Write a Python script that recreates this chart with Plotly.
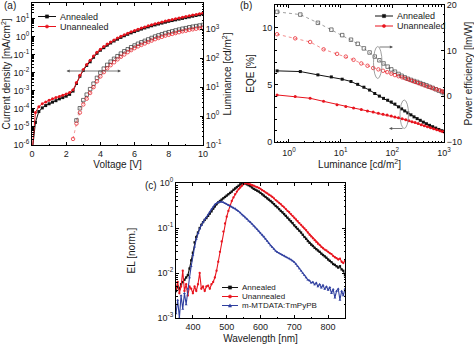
import plotly.graph_objects as go

W, H = 474, 347
FONT = "Liberation Sans, Arial, sans-serif"
TXT = "#1a1a1a"
RED = "#e8141e"
BLUE = "#2f3f9f"
BLACK = "#111111"

# ---------------- Panel (a) data ----------------
voltage = [0.0, 0.2, 0.4, 0.6, 0.8, 1.0, 1.2, 1.4, 1.6, 1.8, 2.0, 2.2, 2.4, 2.6, 2.8, 3.0, 3.2, 3.4,
           3.6, 3.8, 4.0, 4.2, 4.4, 4.6, 4.8, 5.0, 5.2, 5.4, 5.6, 5.8, 6.0, 6.2, 6.4, 6.6, 6.8, 7.0,
           7.2, 7.4, 7.6, 7.8, 8.0, 8.2, 8.4, 8.6, 8.8, 9.0, 9.2, 9.4, 9.6, 9.8, 10.0]
# log10 of current density [mA/cm2]
logJ_annealed = [-6.5, -4.75, -4.15, -3.95, -3.82, -3.72, -3.63, -3.55, -3.45, -3.38, -3.3, -3.2, -3.02,
                 -2.6, -2.2, -1.88, -1.6, -1.4, -1.15, -0.93, -0.76, -0.62, -0.48, -0.36, -0.25, -0.15,
                 -0.05, 0.04, 0.12, 0.2, 0.27, 0.34, 0.41, 0.47, 0.53, 0.59, 0.64, 0.69, 0.74, 0.79,
                 0.84, 0.88, 0.92, 0.96, 1.0, 1.04, 1.08, 1.12, 1.16, 1.2, 1.24]
logJ_unannealed = [-6.5, -4.2, -3.88, -3.72, -3.62, -3.52, -3.45, -3.38, -3.32, -3.25, -3.18, -3.1, -2.95,
                   -2.55, -2.15, -1.82, -1.55, -1.32, -1.08, -0.87, -0.7, -0.56, -0.42, -0.3, -0.19, -0.09,
                   0.01, 0.1, 0.18, 0.26, 0.33, 0.4, 0.47, 0.53, 0.59, 0.65, 0.7, 0.75, 0.8, 0.85,
                   0.9, 0.94, 0.98, 1.02, 1.06, 1.1, 1.14, 1.18, 1.22, 1.26, 1.3]
voltage_lum_annealed = voltage[13:]
logL_annealed = [-0.15, 0.27, 0.55, 0.74, 0.93, 1.12, 1.32, 1.5, 1.64, 1.77, 1.88, 1.98, 2.07, 2.16,
                 2.24, 2.31, 2.38, 2.44, 2.5, 2.55, 2.6, 2.65, 2.7, 2.75, 2.79, 2.83, 2.87, 2.9, 2.93,
                 2.96, 2.99, 3.02, 3.04, 3.07, 3.09, 3.11, 3.13, 3.15]
voltage_lum_unannealed = voltage[12:]
logL_unannealed = [-0.79, -0.26, 0.12, 0.4, 0.6, 0.8, 1.0, 1.2, 1.37, 1.52, 1.65, 1.76, 1.86, 1.96,
                   2.05, 2.13, 2.21, 2.28, 2.35, 2.41, 2.46, 2.51, 2.56, 2.61, 2.66, 2.7, 2.74, 2.78,
                   2.81, 2.84, 2.87, 2.9, 2.93, 2.95, 2.98, 3.0, 3.02, 3.04, 3.06]

# ---------------- Panel (b) data ----------------
logLum_annealed = [-0.23, 0.22, 0.56, 0.82, 1.03, 1.2, 1.33, 1.45, 1.56, 1.66, 1.75, 1.83, 1.91, 1.98,
                   2.05, 2.12, 2.18, 2.24, 2.3, 2.36, 2.42, 2.48, 2.54, 2.6, 2.66, 2.72, 2.78, 2.84,
                   2.9, 2.96, 3.0]
eqe_annealed = [6.23, 6.17, 5.88, 5.7, 5.5, 5.3, 5.05, 4.8, 4.55, 4.25, 4.02, 3.82, 3.66, 3.5, 3.32,
                3.08, 2.9, 2.72, 2.55, 2.38, 2.2, 2.05, 1.9, 1.74, 1.6, 1.46, 1.34, 1.22, 1.1, 0.99, 0.93]
pe_annealed = [18.5, 17.9, 16.1, 14.6, 13.4, 12.4, 11.5, 10.5, 9.6, 8.7, 7.9, 7.2, 6.5, 5.9, 5.4, 4.9,
               4.5, 4.15, 3.85, 3.6, 3.35, 3.15, 2.9, 2.65, 2.4, 2.1, 1.85, 1.55, 1.25, 0.95, 0.7]
logLum_unannealed = [-0.23, 0.12, 0.41, 0.67, 0.93, 1.1, 1.25, 1.4, 1.52, 1.63, 1.73, 1.82, 1.9, 1.98,
                     2.05, 2.12, 2.19, 2.26, 2.32, 2.38, 2.44, 2.5, 2.56, 2.62, 2.68, 2.74, 2.8, 2.86,
                     2.92, 2.97, 3.0]
eqe_unannealed = [4.12, 3.98, 3.83, 3.56, 3.27, 3.12, 2.98, 2.84, 2.72, 2.62, 2.52, 2.44, 2.36, 2.28,
                  2.2, 2.12, 2.04, 1.95, 1.86, 1.78, 1.7, 1.62, 1.52, 1.43, 1.34, 1.25, 1.16, 1.07,
                  0.98, 0.91, 0.87]
pe_unannealed = [13.6, 12.7, 11.9, 10.3, 9.3, 8.7, 8.0, 7.2, 6.7, 6.2, 5.9, 5.6, 5.3, 4.95, 4.65, 4.4,
                 4.15, 3.9, 3.65, 3.4, 3.15, 2.9, 2.65, 2.4, 2.15, 1.95, 1.7, 1.5, 1.3, 1.1, 1.0]

# ---------------- Panel (c) data ----------------
wavelength = list(range(350, 851, 5))
logEL_annealed = [-2.4, -2.3, -2.35, -2.25, -2.2, -2.15, -2.1, -2.05, -1.9, -1.72, -1.55, -1.32, -1.2,
                  -1.1, -1.0, -0.93, -0.87, -0.82, -0.78, -0.73, -0.68, -0.63, -0.57, -0.52, -0.47,
                  -0.43, -0.4, -0.37, -0.34, -0.31, -0.28, -0.25, -0.22, -0.19, -0.15, -0.12, -0.09,
                  -0.06, -0.03, -0.01, 0.0, -0.01, -0.03, -0.05, -0.07, -0.1, -0.13, -0.15, -0.17,
                  -0.19, -0.22, -0.25, -0.28, -0.31, -0.34, -0.37, -0.4, -0.43, -0.47, -0.51, -0.54,
                  -0.58, -0.62, -0.65, -0.69, -0.73, -0.77, -0.81, -0.85, -0.89, -0.94, -0.98, -1.02,
                  -1.06, -1.1, -1.15, -1.2, -1.24, -1.29, -1.33, -1.37, -1.4, -1.44, -1.47, -1.5,
                  -1.53, -1.57, -1.6, -1.63, -1.66, -1.7, -1.73, -1.76, -1.8, -1.82, -1.85, -1.88,
                  -1.85, -1.92, -1.95, -2.05]
logEL_unannealed = [-2.35, -2.2, -2.45, -2.3, -1.95, -2.4, -2.25, -2.5, -2.3, -2.35, -2.45, -2.3, -2.4,
                    -2.25, -2.0, -2.35, -2.3, -2.4, -2.3, -2.28, -2.35, -2.25, -2.2, -2.1, -1.95, -1.75,
                    -1.53, -1.3, -1.08, -0.9, -0.75, -0.62, -0.5, -0.4, -0.32, -0.25, -0.19, -0.14,
                    -0.1, -0.06, -0.02, 0.0, -0.01, -0.02, -0.03, -0.05, -0.06, -0.08, -0.09, -0.11,
                    -0.13, -0.16, -0.18, -0.21, -0.23, -0.26, -0.28, -0.31, -0.34, -0.38, -0.41, -0.44,
                    -0.47, -0.51, -0.54, -0.58, -0.62, -0.65, -0.69, -0.73, -0.77, -0.81, -0.85, -0.89,
                    -0.93, -0.97, -1.01, -1.05, -1.1, -1.15, -1.19, -1.23, -1.27, -1.31, -1.35, -1.38,
                    -1.42, -1.45, -1.48, -1.5, -1.53, -1.56, -1.58, -1.62, -1.65, -1.67, -1.7, -1.68,
                    -1.75, -1.78, -1.72]
logEL_mtdata = [-2.9, -2.6, -3.0, -2.5, -2.8, -2.45, -2.7, -2.35, -2.1, -1.85, -1.6, -1.42, -1.25, -1.12,
                -1.02, -0.94, -0.87, -0.81, -0.76, -0.7, -0.64, -0.58, -0.53, -0.48, -0.45, -0.43,
                -0.42, -0.42, -0.43, -0.45, -0.47, -0.49, -0.51, -0.53, -0.55, -0.57, -0.6, -0.63,
                -0.66, -0.7, -0.73, -0.77, -0.8, -0.84, -0.87, -0.91, -0.95, -0.99, -1.03, -1.07,
                -1.11, -1.15, -1.19, -1.24, -1.29, -1.34, -1.39, -1.43, -1.47, -1.51, -1.54, -1.56,
                -1.58, -1.6, -1.62, -1.64, -1.66, -1.68, -1.7, -1.73, -1.76, -1.8, -1.85, -1.9, -1.95,
                -2.0, -2.05, -2.1, -2.15, -2.17, -2.22, -2.2, -2.26, -2.22, -2.3, -2.25, -2.33, -2.27,
                -2.36, -2.3, -2.38, -2.32, -2.45, -2.36, -2.55, -2.4, -2.35, -2.6, -2.4, -2.5, -2.35]

series_names = ["Annealed", "Unannealed", "m-MTDATA:TmPyPB"]

# tick labels
ticks_J = [1e-6, 1e-5, 1e-4, 1e-3, 1e-2, 1e-1, 1e0, 1e1]
ticktext_J = ["10<sup>-6</sup>", "10<sup>-5</sup>", "10<sup>-4</sup>", "10<sup>-3</sup>", "10<sup>-2</sup>",
              "10<sup>-1</sup>", "10<sup>0</sup>", "10<sup>1</sup>"]
ticks_L = [1e-1, 1e0, 1e1, 1e2, 1e3]
ticktext_L = ["10<sup>-1</sup>", "10<sup>0</sup>", "10<sup>1</sup>", "10<sup>2</sup>", "10<sup>3</sup>"]
ticks_lum_b = [1, 10, 100, 1000]
ticktext_lum_b = ["10<sup>0</sup>", "10<sup>1</sup>", "10<sup>2</sup>", "10<sup>3</sup>"]
ticks_EL = [1e-3, 1e-2, 1e-1, 1e0]
ticktext_EL = ["10<sup>-3</sup>", "10<sup>-2</sup>", "10<sup>-1</sup>", "10<sup>0</sup>"]

def p10(v):
    return [10 ** x for x in v]

def px(x):
    return x / W

def py(y):
    return 1 - y / H

fig = go.Figure()

# Panel (a)
fig.add_trace(go.Scatter(x=voltage, y=p10(logJ_annealed), xaxis="x", yaxis="y", mode="lines+markers",
                         line=dict(color=BLACK, width=1), marker=dict(symbol="square", size=3, color=BLACK),
                         name="Annealed", showlegend=False))
fig.add_trace(go.Scatter(x=voltage, y=p10(logJ_unannealed), xaxis="x", yaxis="y", mode="lines+markers",
                         line=dict(color=RED, width=1), marker=dict(symbol="circle", size=3, color=RED),
                         name="Unannealed", showlegend=False))
fig.add_trace(go.Scatter(x=voltage_lum_annealed, y=p10(logL_annealed), xaxis="x", yaxis="y2",
                         mode="lines+markers", line=dict(color="#777777", width=0.7, dash="dot"),
                         marker=dict(symbol="square-open", size=3.5, color="#333333", line=dict(width=0.7)),
                         name="Annealed L", showlegend=False))
fig.add_trace(go.Scatter(x=voltage_lum_unannealed, y=p10(logL_unannealed), xaxis="x", yaxis="y2",
                         mode="lines+markers", line=dict(color="#f07070", width=0.7, dash="dot"),
                         marker=dict(symbol="circle-open", size=3.5, color=RED, line=dict(width=0.7)),
                         name="Unannealed L", showlegend=False))

# Panel (b)
fig.add_trace(go.Scatter(x=p10(logLum_annealed), y=pe_annealed, xaxis="x2", yaxis="y4", mode="lines+markers",
                         line=dict(color="#888888", width=0.8, dash="dot"),
                         marker=dict(symbol="square-open", size=3.5, color="#444444", line=dict(width=0.7)),
                         showlegend=False))
fig.add_trace(go.Scatter(x=p10(logLum_unannealed), y=pe_unannealed, xaxis="x2", yaxis="y4", mode="lines+markers",
                         line=dict(color="#f07070", width=0.8, dash="dot"),
                         marker=dict(symbol="circle-open", size=3.5, color=RED, line=dict(width=0.7)),
                         showlegend=False))
fig.add_trace(go.Scatter(x=p10(logLum_annealed), y=eqe_annealed, xaxis="x2", yaxis="y3", mode="lines+markers",
                         line=dict(color=BLACK, width=1), marker=dict(symbol="square", size=3, color=BLACK),
                         showlegend=False))
fig.add_trace(go.Scatter(x=p10(logLum_unannealed), y=eqe_unannealed, xaxis="x2", yaxis="y3", mode="lines+markers",
                         line=dict(color=RED, width=1), marker=dict(symbol="circle", size=3, color=RED),
                         showlegend=False))

# Panel (c)
fig.add_trace(go.Scatter(x=wavelength, y=p10(logEL_annealed), xaxis="x3", yaxis="y5", mode="lines+markers",
                         line=dict(color=BLACK, width=1.1), marker=dict(symbol="square", size=2.3, color=BLACK),
                         showlegend=False))
fig.add_trace(go.Scatter(x=wavelength, y=p10(logEL_unannealed), xaxis="x3", yaxis="y5", mode="lines+markers",
                         line=dict(color=RED, width=1.1), marker=dict(symbol="circle", size=2.3, color=RED),
                         showlegend=False))
fig.add_trace(go.Scatter(x=wavelength, y=p10(logEL_mtdata), xaxis="x3", yaxis="y5", mode="lines+markers",
                         line=dict(color=BLUE, width=1.1), marker=dict(symbol="triangle-up", size=2.6, color=BLUE),
                         showlegend=False))

axis_common = dict(showline=True, linecolor="black", linewidth=1, ticks="inside", ticklen=3,
                   tickcolor="black", showgrid=False, zeroline=False, automargin=False,
                   tickfont=dict(family=FONT, size=9, color=TXT),
                   title_font=dict(family=FONT, size=10, color=TXT))

minor_lin = lambda d: dict(ticks="inside", ticklen=1.5, tickcolor="black", dtick=d, showgrid=False)
minor_log = dict(ticks="inside", ticklen=1.5, tickcolor="black", dtick="D1", showgrid=False)

fig.update_layout(
    width=W, height=H, margin=dict(l=0, r=0, t=0, b=0), autosize=False,
    paper_bgcolor="white", plot_bgcolor="white", showlegend=False,
    font=dict(family=FONT, size=9, color=TXT),
    xaxis=dict(axis_common, domain=[px(32), px(203)], anchor="y", range=[0, 10], dtick=2, mirror="ticks",
               minor=minor_lin(1), title=dict(text="Voltage [V]", standoff=3)),
    yaxis=dict(axis_common, domain=[py(145), py(3)], anchor="x", type="log", range=[-6, 1.85],
               tickmode="array", tickvals=ticks_J, ticktext=ticktext_J, minor=minor_log,
               title=dict(text="Current density [mA/cm<sup>2</sup>]", standoff=2)),
    yaxis2=dict(axis_common, overlaying="y", side="right", anchor="x", type="log", range=[-1, 3.91],
                tickmode="array", tickvals=ticks_L, ticktext=ticktext_L, minor=minor_log,
                title=dict(text="Luminance [cd/m<sup>2</sup>]", standoff=3)),
    xaxis2=dict(axis_common, domain=[px(275), px(444)], anchor="y3", type="log", range=[-0.27, 3],
                mirror="ticks", tickmode="array", tickvals=ticks_lum_b, ticktext=ticktext_lum_b,
                ticklabelstandoff=2, minor=minor_log,
                title=dict(text="Luminance [cd/m<sup>2</sup>]", standoff=3)),
    yaxis3=dict(axis_common, domain=[py(142), py(5)], anchor="x2", range=[0, 12], tickvals=[0, 5, 10],
                minor=minor_lin(1), title=dict(text="EQE [%]", standoff=5)),
    yaxis4=dict(axis_common, overlaying="y3", side="right", anchor="x2", range=[-10, 20],
                tickvals=[-10, 0, 10, 20], minor=minor_lin(2),
                title=dict(text="Power efficiency [lm/W]", standoff=3)),
    xaxis3=dict(axis_common, domain=[px(176), px(345)], anchor="y5", range=[350, 850], mirror="ticks",
                tickvals=[400, 500, 600, 700, 800], minor=minor_lin(50),
                title=dict(text="Wavelength [nm]", standoff=4)),
    yaxis5=dict(axis_common, domain=[py(318), py(183)], anchor="x3", type="log", range=[-3, 0],
                mirror="ticks", tickmode="array", tickvals=ticks_EL, ticktext=ticktext_EL, minor=minor_log,
                title=dict(text="EL [norm.]", standoff=20)),
)

shapes = []
annotations = []

def legend_entry(x0, x1, y, color, symbol, label, fsize=9):
    shapes.append(dict(type="line", xref="paper", yref="paper", x0=px(x0), x1=px(x1), y0=py(y), y1=py(y),
                       line=dict(color=color, width=1)))
    cx = (x0 + x1) / 2
    s = 1.6
    if symbol == "square":
        shapes.append(dict(type="rect", xref="paper", yref="paper", x0=px(cx - s), x1=px(cx + s),
                           y0=py(y + s), y1=py(y - s), line=dict(color=color, width=0.5), fillcolor=color))
    elif symbol == "circle":
        shapes.append(dict(type="circle", xref="paper", yref="paper", x0=px(cx - s), x1=px(cx + s),
                           y0=py(y + s), y1=py(y - s), line=dict(color=color, width=0.5), fillcolor=color))
    else:
        shapes.append(dict(type="path", xref="paper", yref="paper",
                           path="M %f,%f L %f,%f L %f,%f Z" % (px(cx - s), py(y + s), px(cx + s), py(y + s),
                                                                px(cx), py(y - s)),
                           line=dict(color=color, width=0.5), fillcolor=color))
    annotations.append(dict(xref="paper", yref="paper", x=px(x1 + 2), y=py(y), text=label, showarrow=False,
                            xanchor="left", yanchor="middle", font=dict(family=FONT, size=fsize, color=TXT)))

# legends
legend_entry(38, 56, 16.5, BLACK, "square", series_names[0])
legend_entry(38, 56, 26.5, RED, "circle", series_names[1])
legend_entry(375, 393, 16, BLACK, "square", series_names[0])
legend_entry(375, 393, 26, RED, "circle", series_names[1])
legend_entry(222, 238, 287.5, BLACK, "square", series_names[0], 8)
legend_entry(222, 238, 296.5, RED, "circle", series_names[1], 8)
legend_entry(222, 238, 305.5, BLUE, "triangle", series_names[2], 8)

# panel labels
for lab, x, y in [("(a)", 2, 5), ("(b)", 238, 5), ("(c)", 143, 185)]:
    annotations.append(dict(xref="paper", yref="paper", x=px(x), y=py(y), text=lab, showarrow=False,
                            xanchor="left", yanchor="middle", font=dict(family=FONT, size=10, color=TXT)))

# arrows
annotations.append(dict(xref="paper", yref="paper", x=px(121), y=py(71), ax=-56, ay=0, text="",
                        showarrow=True, arrowhead=2, arrowside="end+start", arrowsize=0.8,
                        arrowwidth=0.8, arrowcolor="#555555"))
annotations.append(dict(xref="paper", yref="paper", x=px(393), y=py(47), ax=-15, ay=0, text="",
                        showarrow=True, arrowhead=2, arrowsize=0.8, arrowwidth=0.8, arrowcolor="#555555"))
annotations.append(dict(xref="paper", yref="paper", x=px(389), y=py(128.5), ax=15, ay=0, text="",
                        showarrow=True, arrowhead=2, arrowsize=0.8, arrowwidth=0.8, arrowcolor="#555555"))
shapes.append(dict(type="circle", xref="paper", yref="paper", x0=px(373.5), x1=px(382), y0=py(78.5),
                   y1=py(46.5), line=dict(color="#888888", width=0.8)))
shapes.append(dict(type="circle", xref="paper", yref="paper", x0=px(400), x1=px(408.5), y0=py(128.5),
                   y1=py(100), line=dict(color="#888888", width=0.8)))

fig.update_layout(shapes=shapes, annotations=annotations)
fig.write_html("out.html")
